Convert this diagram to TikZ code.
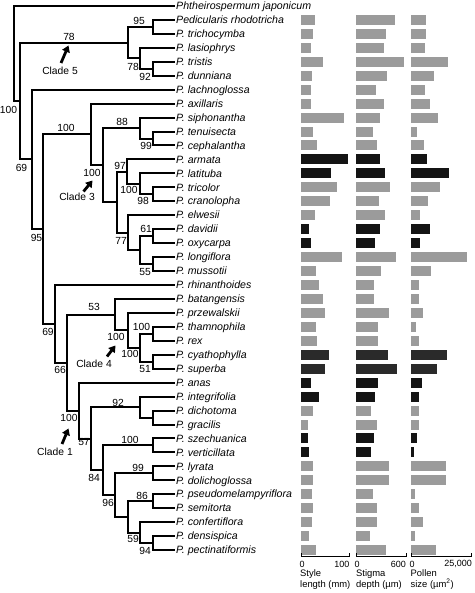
\documentclass[tikz,border=0pt]{standalone}
\usepackage{fontspec}
\setmainfont{Liberation Sans}
\usetikzlibrary{arrows.meta,positioning,calc}
\definecolor{bargray}{RGB}{155,155,155}
\definecolor{barblack}{RGB}{20,20,20}
\definecolor{bardark}{RGB}{42,42,42}

\begin{document}
\begin{tikzpicture}[x=1pt,y=-1pt,
  branch/.style={line width=2pt},
  taxon/.style={anchor=west,inner sep=1pt,text height=7.4pt,text depth=0pt,font=\fontsize{10.6}{12}\selectfont\itshape},
  boot/.style={inner sep=0pt,font=\fontsize{10.3}{12}\selectfont},
  clade/.style={line width=2.8pt,-{Triangle[length=6.5pt,width=8pt]}},
  tick/.style={inner sep=0pt,font=\fontsize{9}{10}\selectfont},
  axtitle/.style={anchor=north west,inner sep=0pt,align=left,font=\fontsize{9.4}{11}\selectfont}]
\useasboundingbox (0,0) rectangle (474,593);

% taxa, one row every 13.95
\foreach \i/\sp in {0/Phtheirospermum japonicum, 1/Pedicularis rhodotricha, 2/P. trichocymba,
  3/P. lasiophrys, 4/P. tristis, 5/P. dunniana, 6/P. lachnoglossa, 7/P. axillaris,
  8/P. siphonantha, 9/P. tenuisecta, 10/P. cephalantha, 11/P. armata, 12/P. latituba,
  13/P. tricolor, 14/P. cranolopha, 15/P. elwesii, 16/P. davidii, 17/P. oxycarpa,
  18/P. longiflora, 19/P. mussotii, 20/P. rhinanthoides, 21/P. batangensis,
  22/P. przewalskii, 23/P. thamnophila, 24/P. rex, 25/P. cyathophylla, 26/P. superba,
  27/P. anas, 28/P. integrifolia, 29/P. dichotoma, 30/P. gracilis, 31/P. szechuanica,
  32/P. verticillata, 33/P. lyrata, 34/P. dolichoglossa, 35/P. pseudomelampyriflora,
  36/P. semitorta, 37/P. confertiflora, 38/P. densispica, 39/P. pectinatiformis}
  \node[taxon] (t\i) at (175,{6+13.95*\i}) {\sp};

% internal nodes
\coordinate (root) at (14,53.5);
\coordinate (nA) at (20,101.02);
\coordinate (c5) at (128,42.62);
\coordinate (n95) at (153,26.93);
\coordinate (n78) at (140,58.31);
\coordinate (n92) at (153,68.78);
\coordinate (nB) at (32,159.41);
\coordinate (nC) at (43,229.11);
\coordinate (nD) at (91,134.39);
\coordinate (c3) at (103,165.12);
\coordinate (n88) at (140,128.06);
\coordinate (n99a) at (153,138.53);
\coordinate (nI) at (117,202.18);
\coordinate (n97) at (127,171.66);
\coordinate (nL) at (140,183.86);
\coordinate (n98) at (153,194.33);
\coordinate (n77) at (128,232.69);
\coordinate (nM) at (140,250.13);
\coordinate (n61) at (153,236.18);
\coordinate (n55) at (153,264.08);
\coordinate (nE) at (55,323.83);
\coordinate (nF) at (67,362.66);
\coordinate (n53) at (115,314.65);
\coordinate (c4) at (128,330.34);
\coordinate (nQ) at (140,347.78);
\coordinate (n100c) at (153,333.83);
\coordinate (n51) at (153,361.73);
\coordinate (c1) at (79,410.66);
\coordinate (n57) at (91,438.67);
\coordinate (nS) at (140,407.06);
\coordinate (ndg) at (153,417.53);
\coordinate (n84) at (103,470.28);
\coordinate (nU) at (153,445.43);
\coordinate (n96) at (115,495.13);
\coordinate (nW) at (153,473.33);
\coordinate (nX) at (128,516.92);
\coordinate (nY) at (153,501.23);
\coordinate (n59) at (140,532.61);
\coordinate (n94) at (153,543.08);

% branches
\foreach \a/\b in {root/t0.west, root/nA, nA/c5, nA/nB, c5/n95, c5/n78, n95/t1.west, n95/t2.west,
  n78/t3.west, n78/n92, n92/t4.west, n92/t5.west, nB/t6.west, nB/nC, nC/nD, nC/nE,
  nD/t7.west, nD/c3, c3/n88, c3/nI, n88/t8.west, n88/n99a, n99a/t9.west, n99a/t10.west,
  nI/n97, nI/n77, n97/t11.west, n97/nL, nL/t12.west, nL/n98, n98/t13.west, n98/t14.west,
  n77/t15.west, n77/nM, nM/n61, nM/n55, n61/t16.west, n61/t17.west, n55/t18.west, n55/t19.west,
  nE/t20.west, nE/nF, nF/n53, nF/c1, n53/t21.west, n53/c4, c4/t22.west, c4/nQ,
  nQ/n100c, nQ/n51, n100c/t23.west, n100c/t24.west, n51/t25.west, n51/t26.west,
  c1/t27.west, c1/n57, n57/nS, n57/n84, nS/t28.west, nS/ndg, ndg/t29.west, ndg/t30.west,
  n84/nU, n84/n96, nU/t31.west, nU/t32.west, n96/nW, n96/nX, nW/t33.west, nW/t34.west,
  nX/nY, nX/n59, nY/t35.west, nY/t36.west, n59/t37.west, n59/n94, n94/t38.west, n94/t39.west}
  \draw[branch] (\a) |- (\b);

% bootstrap values
\foreach \x/\y/\v [count=\k] in {8.5/110/100, 69/37/78, 139/21/95, 133/67/78, 145/77/92,
  21.5/168/69, 66/128/100, 122/122/88, 146/146/99, 92/173/100, 120/166/97, 129/190/100,
  143/201/98, 36.5/238/95, 121/241/77, 146/229/61, 145/272/55, 48/332/69, 94/307/53,
  116/337/100, 141.5/327/100, 130/354/100, 145/369/51, 60/370/66, 69/418/100, 84/442/57,
  118/403/92, 130/440/100, 94/478/84, 138/468/99, 108/503/96, 142/496/86, 133/539/59,
  145/551/94}
  \node[boot] (b\k) at (\x,\y) {\v};

% clades
\node[boot] (lab5) at (60,71) {Clade 5};
\coordinate (a5t) at (61,63); \coordinate (a5h) at (68.5,45.5);
\draw[clade] (a5t) -- (a5h);
\node[boot] (lab3) at (77,197) {Clade 3};
\coordinate (a3t) at (83.5,191.5); \coordinate (a3h) at (92.5,180.5);
\draw[clade] (a3t) -- (a3h);
\node[boot] (lab4) at (94,364) {Clade 4};
\coordinate (a4t) at (107,356.5); \coordinate (a4h) at (115.5,345.5);
\draw[clade] (a4t) -- (a4h);
\node[boot] (lab1) at (55,452) {Clade 1};
\coordinate (a1t) at (62,444); \coordinate (a1h) at (68.5,428.5);
\draw[clade] (a1t) -- (a1h);

% trait bars: style, stigma, pollen
\foreach \i/\s/\g/\p/\c in {1/14.3/38.7/15.3/bargray, 2/12.3/30/14.7/bargray,
  3/9.7/28/13.7/bargray, 4/22.3/47.7/37.3/bargray, 5/11/31/23.3/bargray,
  6/10/19.7/14.3/bargray, 7/10.3/28/19/bargray, 8/43.3/23.7/27/bargray,
  9/12.3/17.3/6.3/bargray, 10/16.3/20.7/12.7/bargray, 11/47.3/23.7/16.3/barblack,
  12/30.3/29.3/38.3/barblack, 13/36/33.7/29.3/bargray, 14/29/23.3/16.7/bargray,
  15/14.3/29/8.7/bargray, 16/8.3/23.7/18.7/barblack, 17/9.7/18.7/9.3/barblack,
  18/41/39.7/56/bargray, 19/15.3/25.3/20.3/bargray, 20/17.7/17.7/8.3/bargray,
  21/22/17.7/8.3/bargray, 22/24/33.3/11.7/bargray, 23/15.3/21.7/5/bargray,
  24/16.3/21.7/8.3/bargray, 25/28.3/32/36.3/bardark, 26/24/41/26.3/bardark,
  27/10.3/22.3/11.3/barblack, 28/18.3/18.7/8.3/barblack, 29/11.7/15.3/8.3/bargray,
  30/7.3/20.7/8/bargray, 31/6.7/18.3/6/barblack, 32/7.7/14.7/3.3/barblack,
  33/12/32.7/35.3/bargray, 34/11.7/32.7/35.3/bargray, 35/11/17/3.7/bargray,
  36/12/20.7/8/bargray, 37/11/21/12.3/bargray, 38/8/14/3.7/bargray,
  39/14.7/30.3/25.3/bargray}{
  \fill[\c] (301,{1+13.95*\i}) rectangle ++(\s,10);
  \fill[\c] (356,{1+13.95*\i}) rectangle ++(\g,10);
  \fill[\c] (411,{1+13.95*\i}) rectangle ++(\p,10);
}

% axes
\draw[line width=0.8pt] (301,553) -- (301,556) -- (349,556) -- (349,553);
\draw[line width=0.8pt] (356,553) -- (356,556) -- (406,556) -- (406,553);
\draw[line width=0.8pt] (411,553) -- (411,556) -- (471,556) -- (471,553);
\node[tick] (s0) at (302,564) {0};
\node[tick,anchor=east] (s1) at (349.5,564) {100};
\node[tick] (g0) at (357,564) {0};
\node[tick,anchor=east] (g1) at (406,564) {600};
\node[tick] (p0) at (412,564) {0};
\node[tick,anchor=east] (p1) at (472,564) {25,000};
\node[axtitle] (ts) at (300,569) {Style\\length (mm)};
\node[axtitle] (tg) at (356,569) {Stigma\\depth (µm)};
\node[axtitle] (tp) at (410.5,569) {Pollen\\size (µm\textsuperscript{2})};
\end{tikzpicture}
\end{document}
